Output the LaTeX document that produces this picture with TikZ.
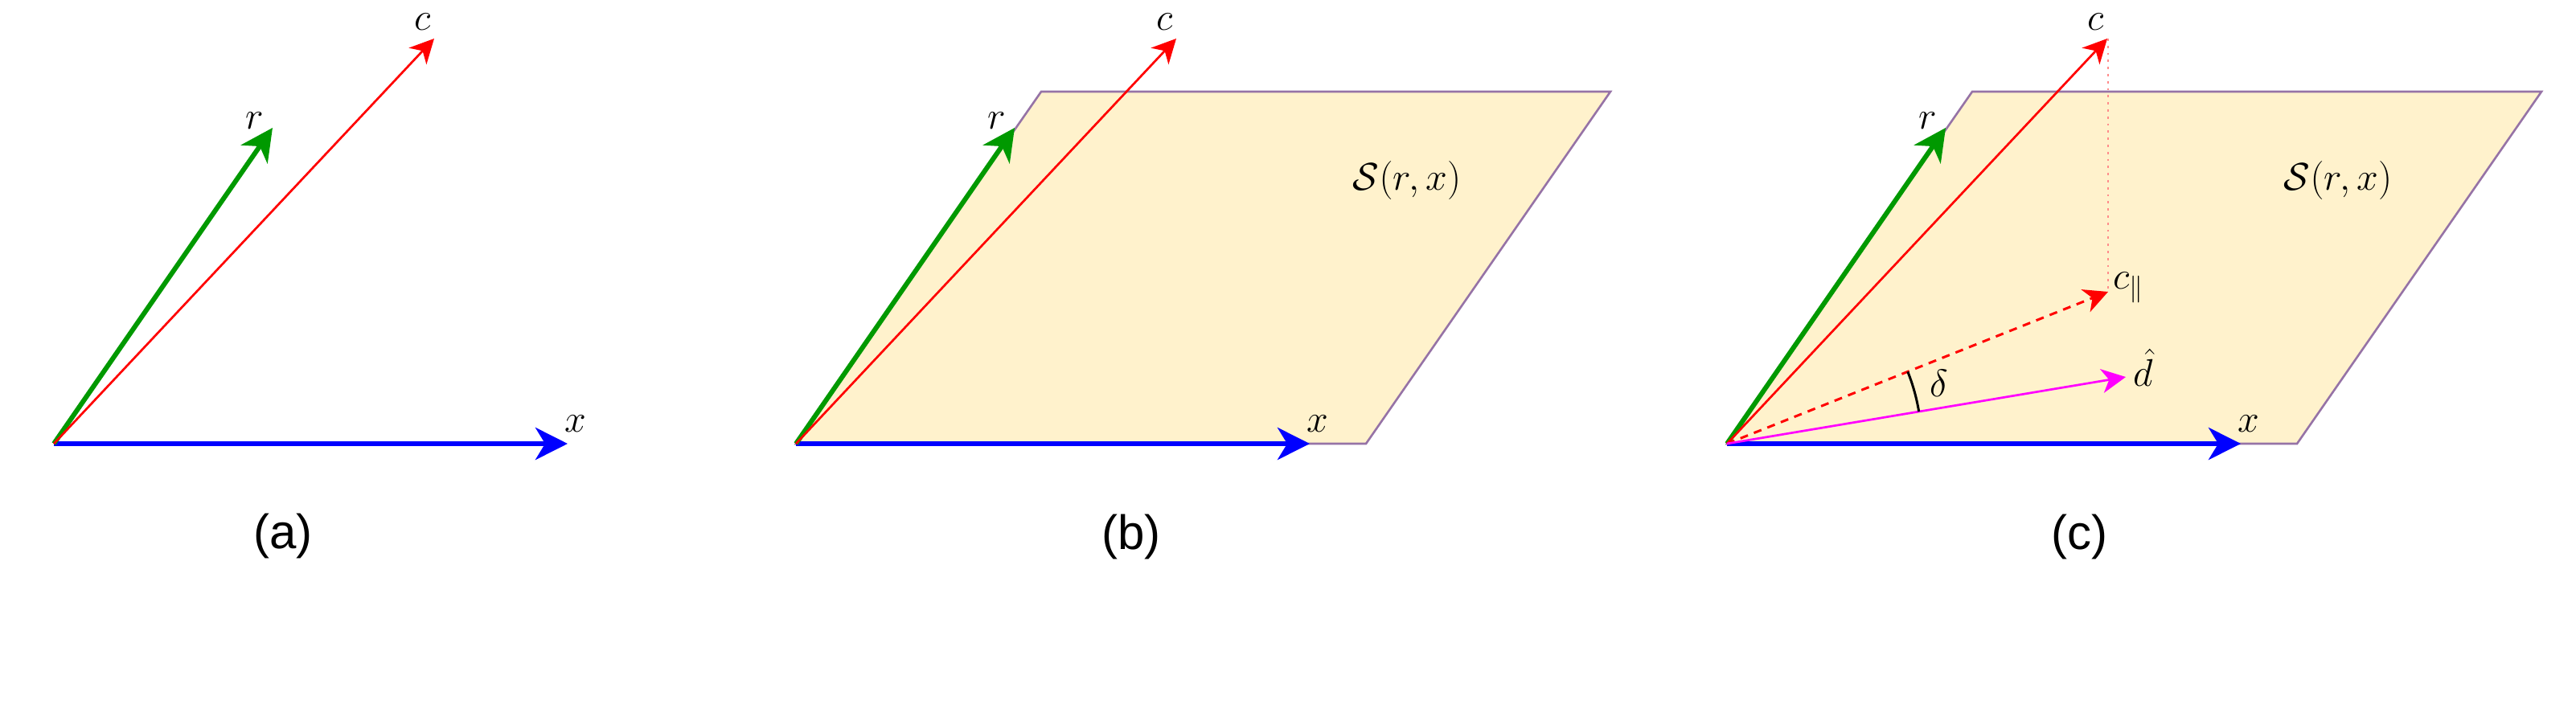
\RequirePackage{fix-cm}
\documentclass[tikz,border=0pt]{standalone}
\usepackage{fontspec}
\newfontfamily\captionfont{Liberation Sans}
\usetikzlibrary{arrows.meta,angles}
\definecolor{planefill}{HTML}{FFF2CC}
\definecolor{planeline}{HTML}{9673A6}
\definecolor{rgreen}{HTML}{009900}
\definecolor{dmagenta}{HTML}{FF00FF}
\definecolor{vblue}{HTML}{0000FF}
\definecolor{vred}{HTML}{FF0000}

\begin{document}
\begin{tikzpicture}[x=50pt,y=50pt,
    plane_face/.style={fill=planefill,draw=planeline,line width=1.3pt},
    x_arrow/.style={vblue,line width=3pt,-{Stealth[length=20pt,width=20pt,inset=6pt]}},
    r_arrow/.style={rgreen,line width=3pt,-{Stealth[length=20pt,width=20pt,inset=6pt]}},
    c_arrow/.style={vred,line width=1.35pt,-{Stealth[length=15pt,width=15pt,inset=4.5pt]}},
    cpar_arrow/.style={vred,line width=1.5pt,dash pattern=on 5pt off 4pt,-{Stealth[length=15pt,width=15pt,inset=4.5pt]}},
    d_arrow/.style={dmagenta,line width=1.35pt,-{Stealth[length=15pt,width=15pt,inset=4.5pt]}},
    proj_line/.style={vred!45,line width=1.4pt,dash pattern=on 1.4pt off 3pt},
    angle_arc/.style={draw,black,line width=1.5pt},
    vec_label/.style={text=black,inner sep=0pt,font=\fontsize{24}{28}\selectfont},
    panel_label/.style={text=black,inner sep=0pt,font=\captionfont\fontsize{30}{36}\selectfont}]
  \useasboundingbox (0,0) rectangle (32.04,8.96);
  % (a)
\coordinate (o_a) at (0.67,3.44);
\coordinate (x_a) at (7.06,3.44);
\coordinate (r_a) at (3.39,7.37);
\coordinate (c_a) at (5.40,8.48);
\draw[x_arrow] (o_a) -- (x_a);
\draw[r_arrow] (o_a) -- (r_a);
\draw[c_arrow] (o_a) -- (c_a);
\node[vec_label] (cl_a) at (5.26,8.69) {$c$};
\node[vec_label] (rl_a) at (3.17,7.46) {$r$};
\node[vec_label] (xl_a) at (7.16,3.69) {$x$};
\node[panel_label] (lab_a) at (3.52,2.29) {(a)};
  % (b)
\coordinate (o_b) at (9.90,3.44);
\coordinate (s_b2) at (16.99,3.44);
\coordinate (s_b3) at (20.03,7.82);
\coordinate (s_b4) at (12.95,7.82);
\coordinate (x_b) at (16.29,3.44);
\coordinate (r_b) at (12.62,7.37);
\coordinate (c_b) at (14.63,8.48);
\draw[plane_face] (o_b) -- (s_b2) -- (s_b3) -- (s_b4) -- cycle;
\draw[x_arrow] (o_b) -- (x_b);
\draw[r_arrow] (o_b) -- (r_b);
\draw[c_arrow] (o_b) -- (c_b);
\node[vec_label] (cl_b) at (14.49,8.69) {$c$};
\node[vec_label] (rl_b) at (12.40,7.46) {$r$};
\node[vec_label] (xl_b) at (16.39,3.69) {$x$};
\node[vec_label] (sl_b) at (17.50,6.71) {$\mathcal{S}(r,x)$};
\node[panel_label] (lab_b) at (14.07,2.28) {(b)};
  % (c)
\coordinate (o_c) at (21.48,3.44);
\coordinate (s_c2) at (28.57,3.44);
\coordinate (s_c3) at (31.61,7.82);
\coordinate (s_c4) at (24.53,7.82);
\coordinate (x_c) at (27.87,3.44);
\coordinate (r_c) at (24.20,7.37);
\coordinate (c_c) at (26.21,8.48);
\coordinate (p_c) at (26.22,5.33);
\coordinate (d_c) at (26.44,4.27);
\coordinate (ct_c) at (26.22,8.48);
\draw[plane_face] (o_c) -- (s_c2) -- (s_c3) -- (s_c4) -- cycle;
\draw[proj_line] (ct_c) -- (p_c);
\draw[x_arrow] (o_c) -- (x_c);
\draw[r_arrow] (o_c) -- (r_c);
\draw[c_arrow] (o_c) -- (c_c);
\draw[cpar_arrow] (o_c) -- (p_c);
\draw[d_arrow] (o_c) -- (d_c);
\pic[angle_arc,angle radius=121pt] {angle=d_c--o_c--p_c};
\node[vec_label] (cl_c) at (26.07,8.69) {$c$};
\node[vec_label] (rl_c) at (23.98,7.46) {$r$};
\node[vec_label] (xl_c) at (27.97,3.69) {$x$};
\node[vec_label,anchor=west] (pl_c) at (26.28,5.38) {$c_{\|}$};
\node[vec_label] (dl_c) at (26.66,4.39) {$\hat{d}$};
\node[vec_label] (al_c) at (24.12,4.19) {$\delta$};
\node[vec_label] (sl_c) at (29.08,6.71) {$\mathcal{S}(r,x)$};
\node[panel_label] (lab_c) at (25.86,2.28) {(c)};
\end{tikzpicture}
\end{document}
